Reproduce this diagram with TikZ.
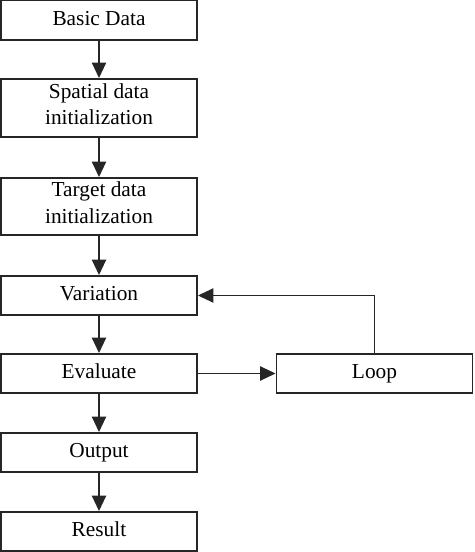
\documentclass[tikz,border=0pt]{standalone}
\usepackage{fontspec}
\setmainfont{Liberation Serif}
\usetikzlibrary{arrows.meta}

\begin{document}
\begin{tikzpicture}[x=0.75pt,y=-0.75pt,
    box/.style={draw=black!85,line width=1.4pt,minimum width=196*0.75pt,
        inner sep=0pt,align=center,font=\fontsize{16}{20}\selectfont,
        execute at begin node=\strut,execute at end node=\strut},
    arr/.style={draw=black!85,line width=1.4pt,-{Triangle[length=11.5pt,width=10.5pt]}}]
    \useasboundingbox (0,0) rectangle (474,552);
    % left column
    \foreach \n/\y/\h/\t in {basic/20/40/Basic Data,
        spatial/108/58/{Spatial data\\initialization},
        target/206.5/57/{Target data\\initialization},
        variation/295.5/39/Variation,
        evaluate/373.5/39/Evaluate,
        output/452.5/39/Output,
        result/531.5/39/Result} {
        \node[box,minimum height=\h*0.75pt] (\n) at (99,\y) {\t};
    }
    \node[box,minimum height=39*0.75pt] (loop) at (374.5,373.5) {Loop};

    \foreach \a/\b in {basic/spatial,spatial/target,target/variation,
        variation/evaluate,evaluate/output,output/result} {
        \draw[arr] (\a) -- (\b);
    }
    \draw[arr] (evaluate) -- (loop);
    \draw[arr] (loop.north) |- (variation.east);
\end{tikzpicture}
\end{document}
